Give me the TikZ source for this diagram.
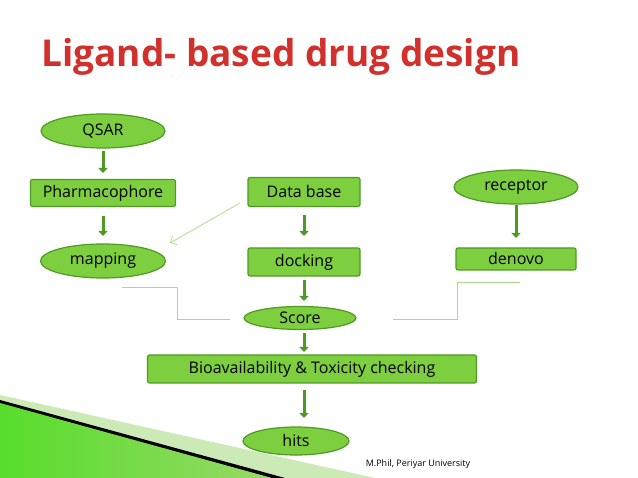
\documentclass[tikz,border=0pt]{standalone}
\usepackage{fontspec}
\setmainfont{Open Sans}
\usetikzlibrary{shapes.geometric,arrows.meta}
\definecolor{gfill}{HTML}{7DCF3F}
\definecolor{gdraw}{HTML}{4E9A22}
\definecolor{gline}{HTML}{A8DC86}
\definecolor{titlec}{HTML}{D0312D}
\tikzset{
 box/.style={draw=gdraw,fill=gfill,line width=1.2pt,rounded corners=2pt,inner sep=0pt,font=\fontsize{16}{18}\selectfont},
 oval/.style={draw=gdraw,fill=gfill,line width=1.2pt,ellipse,inner sep=0pt,font=\fontsize{16}{18}\selectfont},
 flow/.style={draw=gdraw,line width=3pt,-{Triangle[length=5pt,width=9pt]}},
 thin/.style={draw=gline,line width=0.8pt}
}
\begin{document}
\begin{tikzpicture}[x=1pt,y=-1pt]
\useasboundingbox (0,0) rectangle (638,478);
% bottom-left decoration
\fill[gline!60] (0,395) -- (375,478) -- (0,478) -- cycle;
\fill[black] (0,400) -- (285,478) -- (0,478) -- cycle;
\shade[left color=gfill!70!green, right color=gfill!80!white] (0,403) -- (272,478) -- (0,478) -- cycle;
\node[anchor=west,text=titlec,font=\fontsize{37}{42}\selectfont\bfseries] (title) at (38,57) {Ligand- based drug design};
\node[oval,minimum width=124,minimum height=34] (qsar) at (103,131) {QSAR};
\node[box,minimum width=145,minimum height=27] (ph) at (103,193) {Pharmacophore};
\node[oval,minimum width=125,minimum height=34] (map) at (103,261) {mapping};
\node[box,minimum width=112,minimum height=29] (db) at (304,192) {Data base};
\node[box,minimum width=112,minimum height=28] (dock) at (304,262) {docking};
\node[oval,minimum width=112,minimum height=23] (score) at (300,318) {Score};
\node[box,minimum width=329,minimum height=28] (bio) at (312,369) {Bioavailability \& Toxicity checking};
\node[oval,minimum width=106,minimum height=28] (hits) at (296,441) {hits};
\node[oval,minimum width=124,minimum height=34] (rec) at (516,187) {receptor};
\node[box,minimum width=120,minimum height=22] (den) at (516,259) {denovo};
\node[font=\fontsize{9}{11}\selectfont] (foot) at (418,464) {M.Phil, Periyar University};
\draw[flow] (103,151) -- (103,173);
\draw[flow] (103,216) -- (103,236);
\draw[flow] (304,215) -- (304,236);
\draw[flow] (304,280) -- (304,301);
\draw[flow] (304,333) -- (304,352);
\draw[flow] (304,390) -- (304,418);
\draw[flow] (516,205) -- (516,238);
\coordinate (a1) at (240,203);
\coordinate (a2) at (170,243);
\draw[thin,-{Straight Barb[length=5pt]}] (a1) -- (a2);
\coordinate (l1) at (122,287);
\coordinate (l2) at (230,319);
\draw[thin] (l1) -- (177,287) -- (177,319) -- (l2);
\coordinate (r1) at (393,319);
\coordinate (r2) at (520,282);
\draw[thin] (r1) -- (457,319) -- (457,282) -- (r2);
\end{tikzpicture}
\end{document}
